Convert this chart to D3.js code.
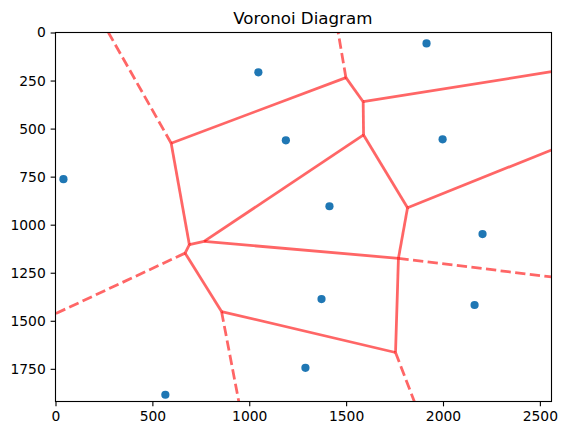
<!DOCTYPE html>
<html>
<head>
<meta charset="utf-8">
<script src="https://cdn.jsdelivr.net/npm/d3@7"></script>
<style>
body { margin: 0; background: #fff; }
text { font-family: "DejaVu Sans", sans-serif; fill: #000; }
</style>
</head>
<body>
<div id="viz"></div>
<script>
// points, image coords (y goes down)
const siteX = [1047, 41, 1189, 1915, 1998, 1414, 2204, 1373, 2163, 1290, 567];
const siteY = [207, 763, 561, 57, 556, 904, 1049, 1387, 1418, 1745, 1885];

// voronoi vertices
const vertexX = [597, 1499, 1588, 1590, 1817, 1770, 1755, 857, 669, 691, 767];
const vertexY = [576, 235, 360, 533, 912, 1175, 1665, 1452, 1148, 1104, 1087];

// finite ridges, as pairs of vertex indices
const ridgeFrom = [0, 1, 2, 3, 4, 5, 6, 7, 8, 9, 0, 10, 10];
const ridgeTo = [1, 2, 3, 4, 5, 6, 7, 8, 9, 10, 9, 3, 5];

// solid ridges that run out through the right side
const edgeFrom = [2, 4];
const edgeX = [2560, 2560];
const edgeY = [204, 611];

// dashed ridges: a vertex and where the line leaves the axes
const openFrom = [0, 1, 5, 6, 7, 8];
const openX = [273, 1459, 2560, 1852, 946, 0];
const openY = [0, 0, 1272, 1920, 1920, 1463];

const xTicks = [0, 500, 1000, 1500, 2000, 2500];
const yTicks = [0, 250, 500, 750, 1000, 1250, 1500, 1750];
const title = 'Voronoi Diagram';

const width = 566, height = 435;
const margin = { left: 55.5, top: 32.5 };
const plotW = 496, plotH = 369;
const lineW = 2.78;

const svg = d3.select('#viz').append('svg')
	.attr('width', width)
	.attr('height', height)
	.style('display', 'block');

const container = svg.append('g')
	.attr('transform', 'translate(' + margin.left + ',' + margin.top + ')');

const xScale = d3.scaleLinear().domain([0, 2560]).range([0, plotW]);
const yScale = d3.scaleLinear().domain([0, 1920]).range([0, plotH]);

svg.append('clipPath').attr('id', 'plot-clip')
	.append('rect')
	.attr('width', plotW)
	.attr('height', plotH);

const plot = container.append('g').attr('clip-path', 'url(#plot-clip)');

// sites first, ridges go on top of them
plot.selectAll('.site')
	.data(siteX)
	.enter()
	.append('circle')
	.attr('class', 'site')
	.attr('r', 4.1)
	.attr('fill', '#1f77b4')
	.attr('cx', (d) => xScale(d))
	.attr('cy', (d, i) => yScale(siteY[i]));

plot.selectAll('.ridge')
	.data(ridgeFrom)
	.enter()
	.append('line')
	.attr('class', 'ridge')
	.attr('x1', (d) => xScale(vertexX[d]))
	.attr('y1', (d) => yScale(vertexY[d]))
	.attr('x2', (d, i) => xScale(vertexX[ridgeTo[i]]))
	.attr('y2', (d, i) => yScale(vertexY[ridgeTo[i]]))
	.attr('stroke', '#ff0000')
	.attr('stroke-opacity', 0.6)
	.attr('stroke-width', lineW);

plot.selectAll('.edge-ridge')
	.data(edgeFrom)
	.enter()
	.append('line')
	.attr('class', 'edge-ridge')
	.attr('x1', (d) => xScale(vertexX[d]))
	.attr('y1', (d) => yScale(vertexY[d]))
	.attr('x2', (d, i) => xScale(edgeX[i]))
	.attr('y2', (d, i) => yScale(edgeY[i]))
	.attr('stroke', '#ff0000')
	.attr('stroke-opacity', 0.6)
	.attr('stroke-width', lineW);

plot.selectAll('.open-ridge')
	.data(openFrom)
	.enter()
	.append('line')
	.attr('class', 'open-ridge')
	.attr('x1', (d) => xScale(vertexX[d]))
	.attr('y1', (d) => yScale(vertexY[d]))
	.attr('x2', (d, i) => xScale(openX[i]))
	.attr('y2', (d, i) => yScale(openY[i]))
	.attr('stroke', '#ff0000')
	.attr('stroke-opacity', 0.6)
	.attr('stroke-width', lineW)
	.attr('stroke-dasharray', '10.3,4.4');

const xAxis = container.append('g')
	.attr('transform', 'translate(0,' + plotH + ')')
	.call(d3.axisBottom(xScale).tickValues(xTicks).tickSize(4.86).tickPadding(4.9).tickFormat(d3.format('d')));

const yAxis = container.append('g')
	.call(d3.axisLeft(yScale).tickValues(yTicks).tickSize(4.86).tickPadding(4.9).tickFormat(d3.format('d')));

container.selectAll('.tick line').attr('stroke-width', 1.11);
container.selectAll('.tick text').attr('font-size', 13.89).attr('font-family', '"DejaVu Sans", sans-serif');
container.selectAll('.domain').remove();

// frame
container.append('rect')
	.attr('width', plotW)
	.attr('height', plotH)
	.attr('fill', 'none')
	.attr('stroke', '#000')
	.attr('stroke-width', 1.11);

container.append('text')
	.attr('x', plotW / 2 - 0.7)
	.attr('y', -8.5)
	.attr('text-anchor', 'middle')
	.attr('font-size', 16.67)
	.text(title);
</script>
</body>
</html>
